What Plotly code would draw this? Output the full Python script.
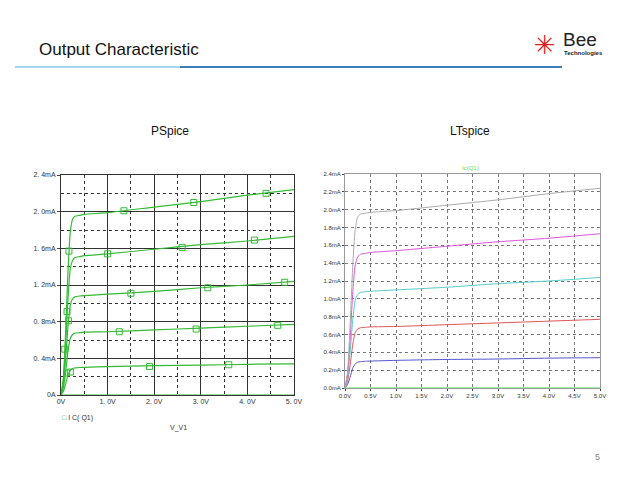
import plotly.graph_objects as go

# collector voltage (V) and collector current (mA) per base-current step
v = [0, 0.05, 0.1, 0.15, 0.2, 0.25, 0.3, 0.4, 0.5, 1, 2, 3, 4, 5]
c0 = [0] * 14
c1 = [0, 0.04, 0.12, 0.22, 0.27, 0.29, 0.295, 0.30, 0.302, 0.31, 0.32, 0.325, 0.335, 0.34]
c2 = [0, 0.08, 0.25, 0.48, 0.62, 0.66, 0.675, 0.68, 0.685, 0.69, 0.71, 0.73, 0.75, 0.77]
c3 = [0, 0.12, 0.40, 0.75, 0.98, 1.05, 1.07, 1.08, 1.085, 1.10, 1.13, 1.17, 1.20, 1.24]
c4 = [0, 0.15, 0.55, 1.05, 1.38, 1.47, 1.50, 1.51, 1.52, 1.54, 1.59, 1.64, 1.68, 1.73]
c5 = [0, 0.18, 0.70, 1.35, 1.78, 1.92, 1.95, 1.96, 1.97, 1.99, 2.05, 2.11, 2.18, 2.24]
curves = [c0, c1, c2, c3, c4, c5]

# PSpice square markers
mk_x = [0.12, 0.2, 1.9, 3.6, 0.08, 0.16, 1.25, 2.9, 4.65, 0.13, 1.5, 3.15, 4.8,
        0.17, 1.0, 2.6, 4.15, 1.35, 2.85, 4.4]
mk_y = [0.24, 0.25, 0.31, 0.33, 0.5, 0.81, 0.69, 0.72, 0.76, 0.91, 1.11, 1.17, 1.23,
        1.57, 1.54, 1.61, 1.69, 2.01, 2.10, 2.20]

lt_colors = ["#44dd44", "#5555cc", "#dd5555", "#55cccc", "#dd55dd", "#aaaaaa"]

W, H, OFF = 638, 478, 8


def px(x):
    return (x - OFF) / W


def py(y):
    return 1 - (y - OFF) / H


fig = go.Figure()
for c in curves:
    fig.add_trace(go.Scatter(x=v, y=c, mode="lines", line=dict(color="#33bb33", width=1.2, shape="spline", smoothing=0.6),
                             xaxis="x", yaxis="y", showlegend=False))
fig.add_trace(go.Scatter(x=mk_x, y=mk_y, mode="markers", xaxis="x", yaxis="y", showlegend=False,
                         marker=dict(symbol="square-open", size=6, color="#33bb33")))
for c, col in zip(curves, lt_colors):
    fig.add_trace(go.Scatter(x=v, y=c, mode="lines", line=dict(color=col, width=1, shape="spline", smoothing=0.6),
                             xaxis="x2", yaxis="y2", showlegend=False))

ps_yt = [0, 0.4, 0.8, 1.2, 1.6, 2.0, 2.4]
ps_yl = ["0A", "0. 4mA", "0. 8mA", "1. 2mA", "1. 6mA", "2. 0mA", "2. 4mA"]
ps_xt = [0, 1, 2, 3, 4, 5]
ps_xl = ["0V", "1. 0V", "2. 0V", "3. 0V", "4. 0V", "5. 0V"]
lt_yt = [i * 0.2 for i in range(13)]
lt_yl = ["%.1fmA" % t for t in lt_yt]
lt_xt = [i * 0.5 for i in range(11)]
lt_xl = ["%.1fV" % t for t in lt_xt]


def note(text, x, y, size, color="#111", xa="center", family="Liberation Sans"):
    return dict(text=text, x=px(x), y=py(y), xref="paper", yref="paper", showarrow=False,
                xanchor=xa, yanchor="middle", font=dict(family=family, size=size, color=color))


f7 = dict(family="Liberation Sans", size=7, color="#333")
fig.update_layout(
    width=W, height=H, margin=dict(l=0, r=0, t=0, b=0),
    paper_bgcolor="white", plot_bgcolor="white",
    xaxis=dict(domain=[px(61), px(294)], range=[0, 5], tickvals=ps_xt, ticktext=ps_xl, tickfont=f7, automargin=False,
               showgrid=True, gridcolor="#333", gridwidth=1, zeroline=False,
               minor=dict(dtick=0.5, showgrid=True, gridcolor="#333", griddash="dot"),
               showline=True, linecolor="#333", mirror=True, ticks=""),
    yaxis=dict(domain=[py(395), py(175)], range=[0, 2.4], tickvals=ps_yt, ticktext=ps_yl, tickfont=f7, automargin=False,
               showgrid=True, gridcolor="#333", gridwidth=1, zeroline=False,
               minor=dict(dtick=0.2, showgrid=True, gridcolor="#333", griddash="dot"),
               showline=True, linecolor="#333", mirror=True, ticks="outside", ticklen=3),
    xaxis2=dict(domain=[px(345), px(600)], range=[0, 5], tickvals=lt_xt, ticktext=lt_xl, tickfont=dict(f7, size=6),
                anchor="y2", showgrid=True, gridcolor="#777", griddash="dot", zeroline=False, automargin=False,
                showline=True, linecolor="#999", mirror=True, ticks="outside", ticklen=2),
    yaxis2=dict(domain=[py(388), py(174)], range=[0, 2.4], tickvals=lt_yt, ticktext=lt_yl, tickfont=dict(f7, size=6),
                anchor="x2", showgrid=True, gridcolor="#777", griddash="dot", zeroline=False, automargin=False,
                showline=True, linecolor="#999", mirror=True, ticks="outside", ticklen=2),
    shapes=[
        dict(type="line", xref="paper", yref="paper", x0=px(15), x1=px(180), y0=py(67), y1=py(67),
             line=dict(color="#a8d4ee", width=2)),
        dict(type="line", xref="paper", yref="paper", x0=px(180), x1=px(562), y0=py(67), y1=py(67),
             line=dict(color="#3a7fb8", width=2)),
    ],
    annotations=[
        note("Output Characteristic", 37, 50, 17, xa="left"),
        note("✳", 545, 45, 26, color="#e02020", family="DejaVu Sans"),
        note("Bee", 561, 40, 19, color="#222", xa="left"),
        note("<b>Technologies</b>", 562, 53, 6, color="#222", xa="left"),
        note("PSpice", 170, 131, 12),
        note("LTspice", 470, 131, 12),
        note("Ic(Q1)", 470, 168, 6, color="#66dd66"),
        note("<span style='color:#33bb33'>□</span> I C( Q1)", 60, 418, 7, color="#333", xa="left"),
        note("V_V1", 178, 428, 7, color="#333"),
        note("5", 597, 457, 9, color="#888"),
    ],
)
fig.write_html("out.html")
